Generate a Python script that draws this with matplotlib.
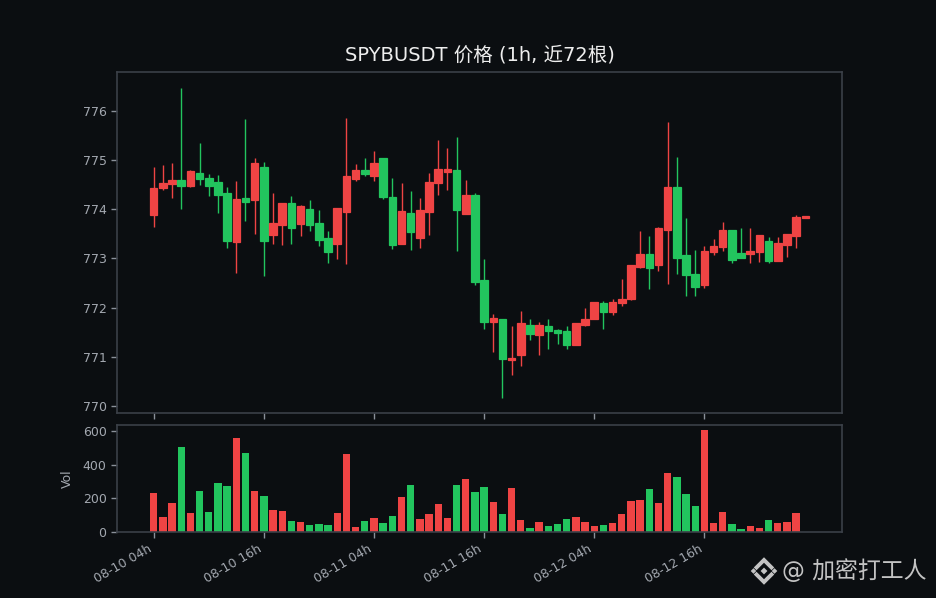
import matplotlib
matplotlib.use("Agg")
import matplotlib.pyplot as plt
from matplotlib.lines import Line2D
from matplotlib.patches import Polygon
import numpy as np

plt.rcParams['font.family'] = ['DejaVu Sans', 'Noto Sans CJK SC']

opens = [773.89, 774.43, 774.52, 774.59, 774.48, 774.73, 774.63, 774.55, 774.33, 773.34,
         774.23, 774.19, 774.85, 773.48, 773.69, 774.13, 773.71, 774.00, 773.72, 773.42,
         773.30, 773.95, 774.62, 774.79, 774.68, 775.04, 774.25, 773.30, 773.92, 773.42,
         773.95, 774.54, 774.76, 774.79, 773.91, 774.29, 772.57, 771.70, 771.77, 770.94,
         771.04, 771.64, 771.44, 771.62, 771.54, 771.52, 771.24, 771.64, 771.77, 772.10,
         771.91, 772.09, 772.17, 772.82, 773.09, 772.86, 773.57, 774.45, 773.07, 772.69,
         772.47, 773.14, 773.24, 773.58, 773.11, 773.10, 773.14, 773.36, 772.94, 773.28,
         773.46, 773.83]
highs = [774.85, 774.89, 774.95, 776.47, 774.79, 775.34, 774.71, 774.69, 774.45, 774.57,
         775.84, 775.04, 774.97, 774.33, 774.13, 774.27, 774.08, 774.19, 773.98, 773.56,
         774.02, 775.86, 774.93, 775.04, 775.18, 775.04, 774.63, 774.53, 774.37, 774.23,
         774.73, 775.40, 775.24, 775.46, 774.59, 774.33, 772.99, 771.88, 771.77, 771.62,
         771.94, 771.76, 771.70, 771.76, 771.56, 771.62, 771.68, 772.00, 772.12, 772.14,
         772.18, 772.59, 772.87, 773.56, 773.46, 773.64, 775.78, 775.06, 773.82, 773.17,
         773.26, 773.40, 773.74, 773.58, 773.62, 773.62, 773.48, 773.44, 773.44, 773.50,
         773.88, 773.86]
lows = [773.63, 774.39, 774.23, 774.00, 774.45, 774.49, 774.27, 773.92, 773.22, 772.70,
        773.77, 773.50, 772.64, 773.30, 773.28, 773.30, 773.46, 773.55, 773.26, 772.90,
        772.98, 772.88, 774.58, 774.67, 774.58, 774.21, 773.20, 773.30, 773.18, 773.22,
        773.48, 774.29, 774.39, 773.16, 773.91, 772.47, 771.56, 771.10, 770.17, 770.63,
        770.82, 771.34, 771.04, 771.16, 771.26, 771.16, 771.24, 771.62, 771.77, 771.56,
        771.85, 772.03, 772.15, 772.80, 772.37, 772.74, 772.49, 772.68, 772.23, 772.23,
        772.41, 773.08, 773.16, 772.90, 773.00, 772.90, 772.92, 772.90, 772.94, 773.04,
        773.22, 773.83]
closes = [774.43, 774.54, 774.60, 774.48, 774.77, 774.62, 774.48, 774.29, 773.36, 774.21,
          774.15, 774.95, 773.36, 773.72, 774.13, 773.61, 774.06, 773.69, 773.38, 773.14,
          774.02, 774.67, 774.79, 774.72, 774.95, 774.25, 773.28, 773.96, 773.53, 773.98,
          774.55, 774.81, 774.81, 773.99, 774.29, 772.53, 771.70, 771.80, 770.96, 770.97,
          771.69, 771.46, 771.64, 771.52, 771.48, 771.24, 771.68, 771.78, 772.12, 771.91,
          772.12, 772.18, 772.87, 773.09, 772.80, 773.62, 774.45, 773.00, 772.66, 772.43,
          773.15, 773.26, 773.58, 772.96, 773.00, 773.15, 773.48, 772.94, 773.32, 773.50,
          773.84, 773.86]
volumes = [230, 87, 170, 503, 111, 242, 117, 289, 271, 556,
           467, 242, 212, 129, 123, 63, 57, 40, 46, 40,
           111, 461, 28, 63, 81, 51, 93, 206, 277, 75,
           105, 164, 81, 277, 313, 236, 265, 176, 105, 259,
           69, 22, 57, 34, 46, 75, 87, 57, 34, 40,
           51, 105, 182, 188, 253, 170, 348, 325, 224, 152,
           604, 51, 117, 46, 16, 34, 22, 69, 51, 57,
           111, 2]
tick_labels = ["08-10 04h", "08-10 16h", "08-11 04h", "08-11 16h", "08-12 04h", "08-12 16h"]
tick_step = 12

BG = "#0b0e11"
UP = "#ef4444"
DOWN = "#22c55e"
SPINE = "#3b4048"
TXT = "#a3a8b0"

o = np.array(opens); h = np.array(highs); l = np.array(lows); c = np.array(closes)
v = np.array(volumes)
x = np.arange(len(o))
up = c >= o
cols = np.where(up, UP, DOWN)

fig = plt.figure(figsize=(9.36, 5.98), dpi=100, facecolor=BG)
ax = fig.add_axes([0.125, 0.3094, 0.7746, 0.5702], facecolor=BG)
axv = fig.add_axes([0.125, 0.1104, 0.7746, 0.1789], facecolor=BG, sharex=ax)

ax.vlines(x, l, h, colors=cols, linewidth=1.0, zorder=2)
body_bottom = np.minimum(o, c)
body_h = np.maximum(np.abs(c - o), 0.012)
ax.bar(x, body_h, bottom=body_bottom, width=0.82, color=cols, edgecolor=cols,
       linewidth=0.9, zorder=3)

axv.bar(x, v, width=0.8, color=cols, linewidth=0)

ax.set_xlim(-4, 75)
ax.set_ylim(769.86, 776.79)
axv.set_ylim(0, 636)

ticks = x[::tick_step]
axv.set_xticks(ticks)
axv.set_xticklabels(tick_labels, rotation=30, ha='right')
ax.tick_params(axis='x', labelbottom=False)
axv.set_yticks([0, 200, 400, 600])
ax.set_yticks([770, 771, 772, 773, 774, 775, 776])

for a in (ax, axv):
    for s in a.spines.values():
        s.set_color(SPINE)
        s.set_linewidth(1.2)
    a.tick_params(colors=TXT, labelsize=9, length=4, width=1.0)
    a.tick_params(axis='both', color="#8a9099")

axv.set_ylabel("Vol", color=TXT, fontsize=9, labelpad=6)

ax.set_title("SPYBUSDT 价格 (1h, 近72根)", color="#eeeeee", fontsize=14, pad=8)

# watermark
fig.text(0.990, 0.045, "@ 加密打工人", color="#d8d8d8", fontsize=16.5,
         ha='right', va='center', family=['DejaVu Sans', 'Noto Sans CJK SC'], alpha=0.9)
cx, cy = 764 / 936, 1 - 571 / 598
sx, sy = 1 / 936, 1 / 598
def diamond(px, py, r):
    return Polygon([(cx + (px) * sx, cy + (py + r) * sy), (cx + (px + r) * sx, cy + py * sy),
                    (cx + px * sx, cy + (py - r) * sy), (cx + (px - r) * sx, cy + py * sy)],
                   closed=True, transform=fig.transFigure, facecolor="#d8d8d8",
                   edgecolor="none", alpha=0.9)
fig.add_artist(diamond(0, 0, 3.4))
fig.add_artist(diamond(-10.5, 0, 2.8))
fig.add_artist(diamond(10.5, 0, 2.8))
for sgn in (1, -1):
    pts = [(-7.5, sgn * 3.5), (0, sgn * 11), (7.5, sgn * 3.5)]
    fig.add_artist(Line2D([cx + p[0] * sx for p in pts], [cy + p[1] * sy for p in pts],
                          transform=fig.transFigure, color="#d8d8d8", linewidth=2.8,
                          alpha=0.9, solid_joinstyle='miter'))

fig.savefig("out.png", dpi=100, facecolor=BG)
